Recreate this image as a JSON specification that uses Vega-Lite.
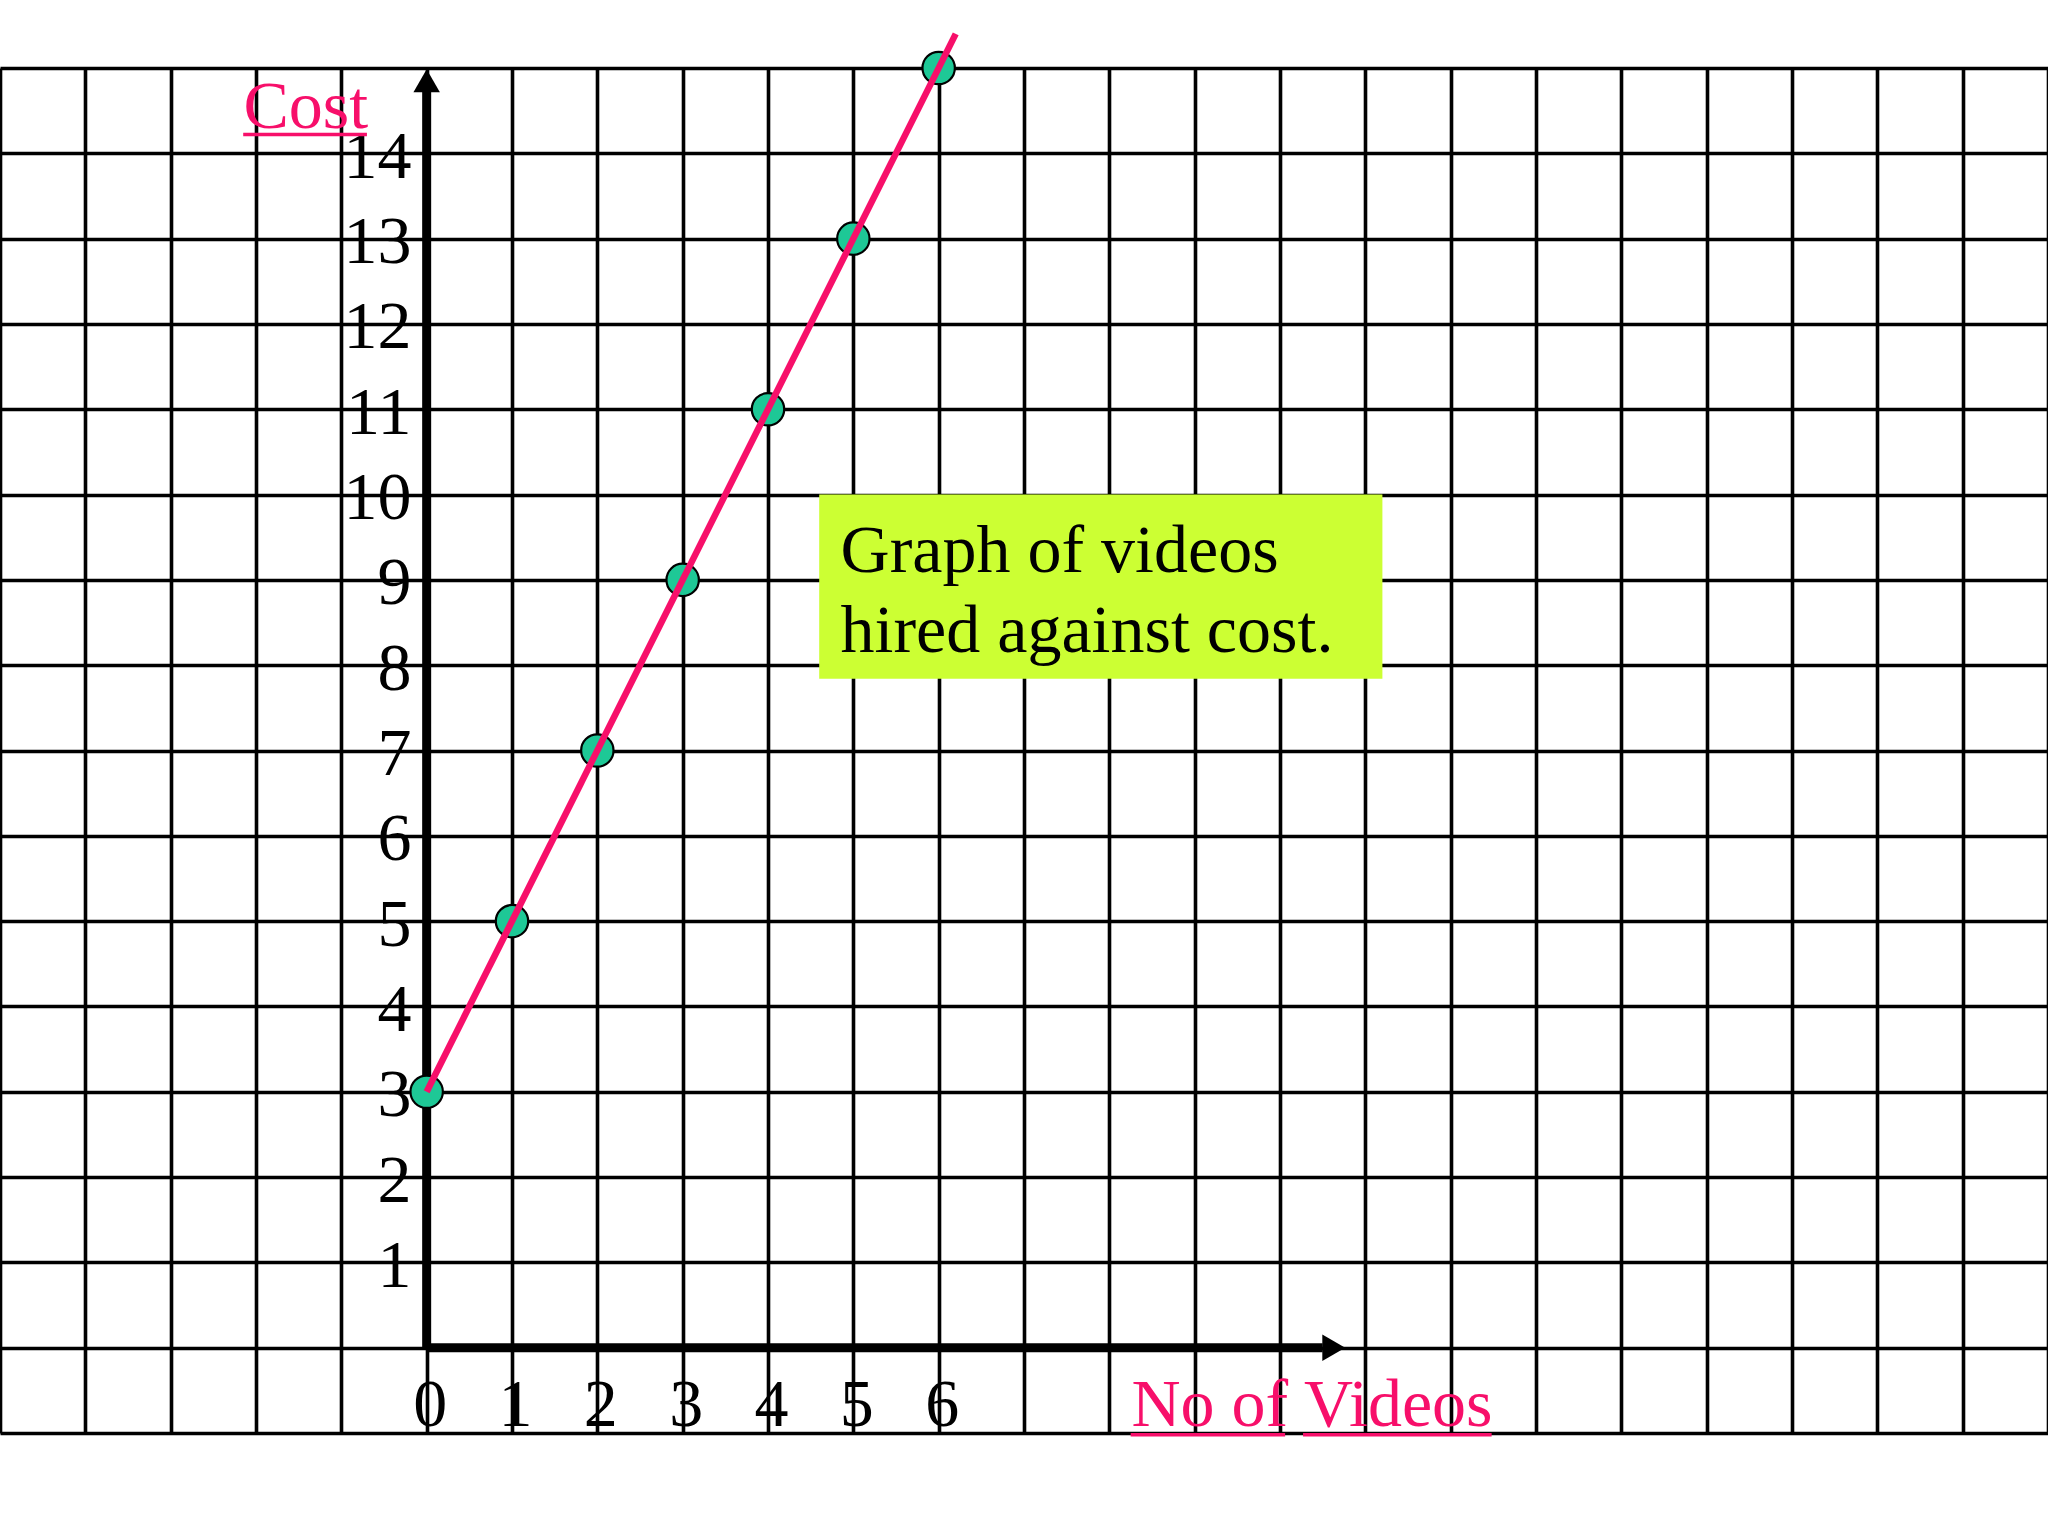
{
  "$schema": "https://vega.github.io/schema/vega-lite/v6.json",
  "width": 2048,
  "height": 1365,
  "autosize": "none",
  "padding": {"top": 68, "left": 0, "right": 0, "bottom": 103},
  "background": "white",
  "config": {"view": {"stroke": null}, "font": "Liberation Serif"},
  "datasets": {
    "box": [{"x": 4.6, "x2": 11.2, "y": 7.84, "y2": 10.0}],
    "boxtext": [
      {"x": 4.85, "y": 9.09, "text": "Graph of videos"},
      {"x": 4.85, "y": 8.16, "text": "hired against cost."}
    ],
    "axislines": [
      {"x": 0, "y": 0, "x2": 0, "y2": 14.72},
      {"x": 0, "y": 0, "x2": 10.5, "y2": 0}
    ],
    "arrowup": [{"x": 0, "y": 14.85}],
    "arrowright": [{"x": 10.63, "y": 0}],
    "underlines": [
      {"x": -2.15, "x2": -0.7, "y": 14.22, "y2": 14.22},
      {"x": 8.25, "x2": 10.06, "y": -1.02, "y2": -1.02},
      {"x": 10.27, "x2": 12.48, "y": -1.02, "y2": -1.02}
    ],
    "points": [
      {"x": 0, "y": 3},
      {"x": 1, "y": 5},
      {"x": 2, "y": 7},
      {"x": 3, "y": 9},
      {"x": 4, "y": 11},
      {"x": 5, "y": 13},
      {"x": 6, "y": 15}
    ],
    "fitline": [
      {"x": 0, "y": 3},
      {"x": 6.2, "y": 15.4}
    ]
  },
  "encoding": {
    "x": {
      "field": "x",
      "type": "quantitative",
      "scale": {"domain": [-5, 19], "nice": false, "zero": false},
      "axis": {
        "orient": "bottom",
        "values": [-5,-4,-3,-2,-1,0,1,2,3,4,5,6,7,8,9,10,11,12,13,14,15,16,17,18,19],
        "grid": true,
        "gridColor": "black",
        "gridWidth": 3.6,
        "gridOpacity": 1,
        "ticks": false,
        "tickSize": 0,
        "domain": false,
        "labelExpr": "datum.value >= 0 && datum.value <= 6 ? datum.label : ''",
        "labelFont": "Liberation Serif",
        "labelFontSize": 68,
        "labelColor": "black",
        "labelBaseline": "alphabetic",
        "labelAlign": "center",
        "labelPadding": -8,
        "labelOffset": 3,
        "labelOverlap": false,
        "labelFlush": false,
        "labelBound": false,
        "title": "No of Videos",
        "titleFont": "Liberation Serif",
        "titleFontSize": 68,
        "titleFontWeight": "normal",
        "titleColor": "#f70f6a",
        "titleX": 1131,
        "titleY": -8,
        "titleAlign": "left",
        "titleBaseline": "alphabetic",
        "zindex": 0
      }
    },
    "y": {
      "field": "y",
      "type": "quantitative",
      "scale": {"domain": [-1, 15], "nice": false, "zero": false},
      "axis": {
        "orient": "left",
        "values": [-1,0,1,2,3,4,5,6,7,8,9,10,11,12,13,14,15],
        "grid": true,
        "gridColor": "black",
        "gridWidth": 3.6,
        "gridOpacity": 1,
        "ticks": false,
        "tickSize": 0,
        "domain": false,
        "labelExpr": "datum.value >= 1 && datum.value <= 14 ? datum.label : ''",
        "labelFont": "Liberation Serif",
        "labelFontSize": 68,
        "labelColor": "black",
        "labelBaseline": "middle",
        "labelAlign": "right",
        "labelPadding": -411,
        "labelOffset": 4,
        "labelOverlap": false,
        "labelFlush": false,
        "labelBound": false,
        "title": "Cost",
        "titleFont": "Liberation Serif",
        "titleFontSize": 68,
        "titleFontWeight": "normal",
        "titleColor": "#f70f6a",
        "titleAngle": 0,
        "titleX": 243,
        "titleY": 59,
        "titleAlign": "left",
        "titleBaseline": "alphabetic",
        "zindex": 0
      }
    }
  },
  "layer": [
    {
      "data": {"name": "box"},
      "mark": {"type": "rect", "fill": "#ccff33", "stroke": null},
      "encoding": {"x2": {"field": "x2"}, "y2": {"field": "y2"}}
    },
    {
      "data": {"name": "boxtext"},
      "mark": {"type": "text", "align": "left", "baseline": "alphabetic", "font": "Liberation Serif", "fontSize": 68, "color": "black"},
      "encoding": {"text": {"field": "text", "type": "nominal"}}
    },
    {
      "data": {"name": "axislines"},
      "mark": {"type": "rule", "color": "black", "strokeWidth": 9, "strokeCap": "butt"},
      "encoding": {"x2": {"field": "x2"}, "y2": {"field": "y2"}}
    },
    {
      "data": {"name": "arrowup"},
      "mark": {"type": "point", "shape": "triangle-up", "filled": true, "color": "black", "size": 700, "opacity": 1}
    },
    {
      "data": {"name": "arrowright"},
      "mark": {"type": "point", "shape": "triangle-right", "filled": true, "color": "black", "size": 700, "opacity": 1}
    },
    {
      "data": {"name": "underlines"},
      "mark": {"type": "rule", "color": "#f70f6a", "strokeWidth": 3.5, "strokeCap": "butt"},
      "encoding": {"x2": {"field": "x2"}, "y2": {"field": "y2"}}
    },
    {
      "data": {"name": "points"},
      "mark": {"type": "point", "shape": "circle", "filled": true, "fill": "#1ec896", "stroke": "black", "strokeWidth": 2.2, "size": 1050, "opacity": 1, "fillOpacity": 1, "strokeOpacity": 1}
    },
    {
      "data": {"name": "fitline"},
      "mark": {"type": "line", "color": "#f70f6a", "strokeWidth": 6.5, "strokeCap": "butt"}
    }
  ]
}
